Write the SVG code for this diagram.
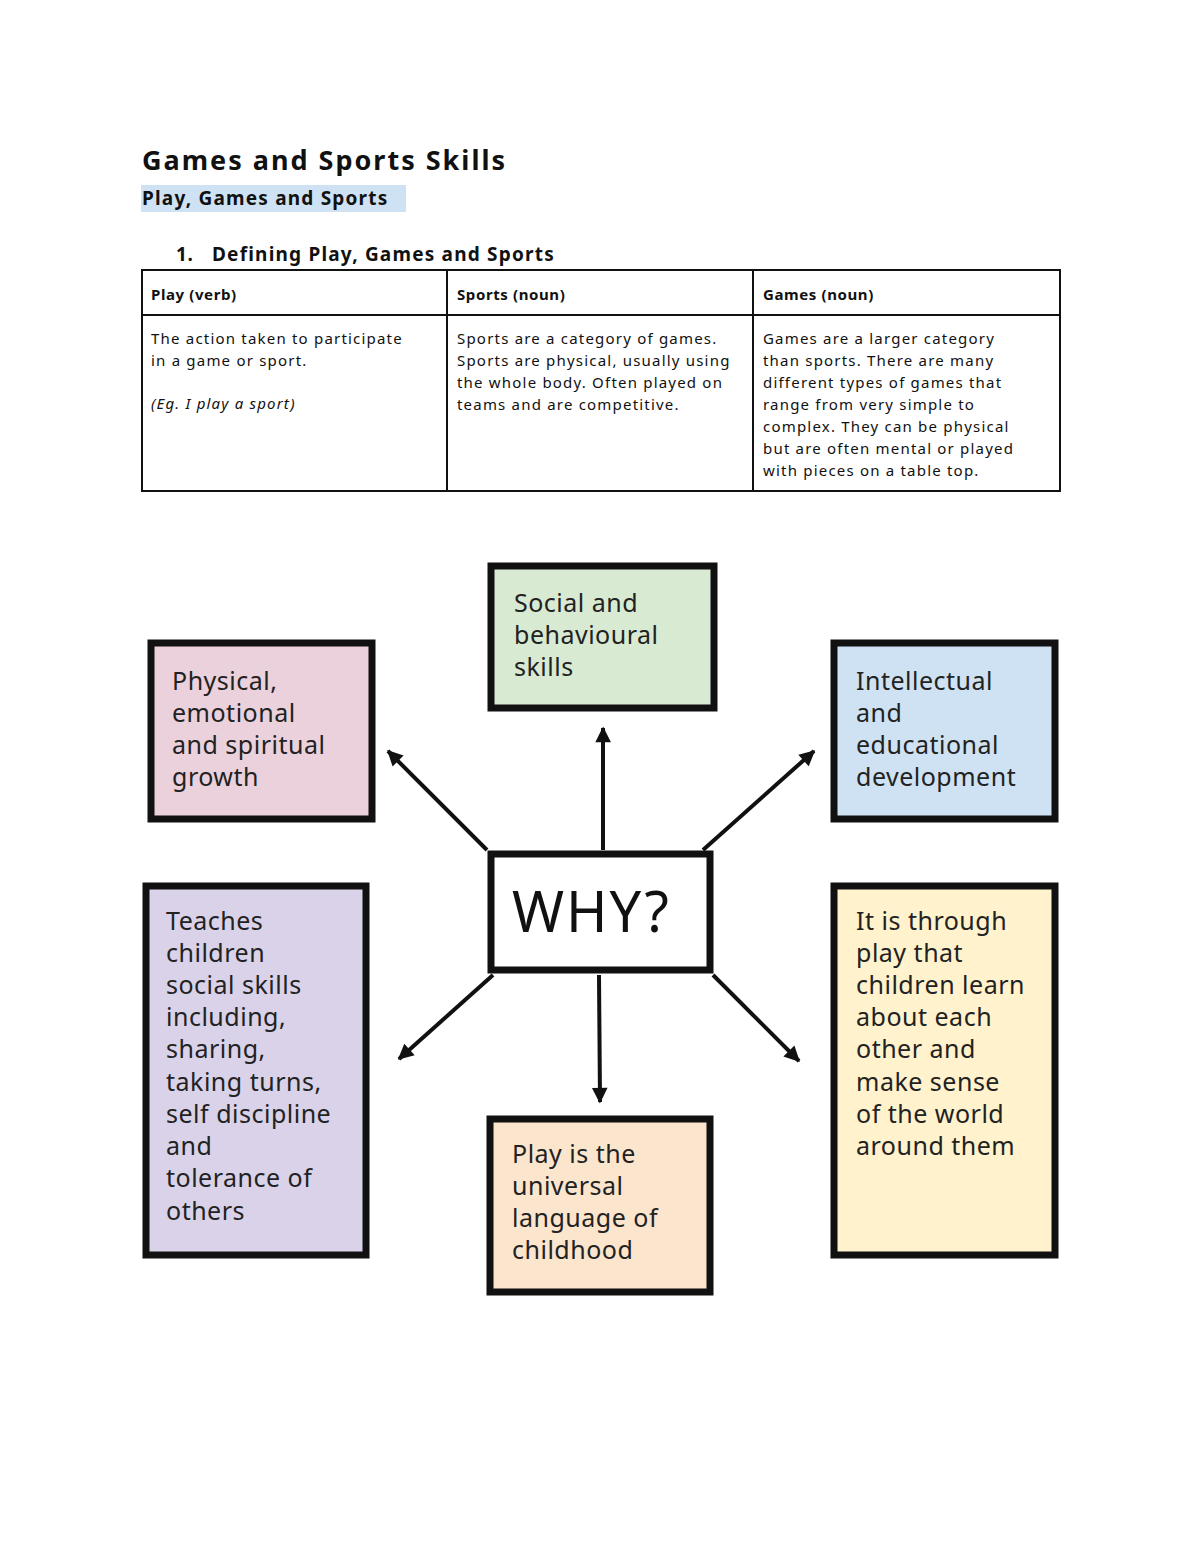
<svg xmlns="http://www.w3.org/2000/svg" width="1200" height="1553" viewBox="0 0 1200 1553">
<style>
text{font-family:"Noto Sans","Open Sans","Liberation Sans",sans-serif;fill:#111}
.h{font-weight:bold;letter-spacing:0.6px}
.th{font-size:15px;font-weight:bold;letter-spacing:0.6px}
.td{font-size:15px;letter-spacing:1.2px}
.box{stroke:#111;stroke-width:7}
.bt{font-size:25px;fill:#222;letter-spacing:0.5px}
.cell{fill:none;stroke:#111;stroke-width:2}
.con line{stroke:#111;stroke-width:4}
</style>
<defs>
<marker id="ah" viewBox="0 0 10 10" refX="8" refY="5" markerWidth="6" markerHeight="6" orient="auto" markerUnits="userSpaceOnUse" style="overflow:visible">
<path d="M0,0 L10,5 L0,10 z" fill="#111" transform="scale(2.6) translate(-6,-3)"/>
</marker>
</defs>
<rect width="1200" height="1553" fill="#fff"/>
<text class="h" x="142" y="170" font-size="27" style="letter-spacing:2px">Games and Sports Skills</text>
<rect x="141" y="185" width="265" height="27" fill="#cfe2f3"/>
<text class="h" x="142" y="205" font-size="19" style="letter-spacing:1.2px">Play, Games and Sports</text>
<text class="h" x="176" y="261" font-size="19">1.</text>
<text class="h" x="212" y="261" font-size="19" style="letter-spacing:1.2px">Defining Play, Games and Sports</text>
<g id="table">
<rect class="cell" x="142" y="270" width="918" height="221"/>
<line class="cell" x1="142" y1="315" x2="1060" y2="315"/>
<line class="cell" x1="447" y1="270" x2="447" y2="491"/>
<line class="cell" x1="753" y1="270" x2="753" y2="491"/>
<text class="th" x="151" y="300">Play (verb)</text>
<text class="th" x="457" y="300">Sports (noun)</text>
<text class="th" x="763" y="300">Games (noun)</text>
<text class="td" x="151" y="344">The action taken to participate</text>
<text class="td" x="151" y="366">in a game or sport.</text>
<text class="td" x="151" y="409" font-style="italic">(Eg. I play a sport)</text>
<text class="td" x="457" y="344">Sports are a category of games.</text>
<text class="td" x="457" y="366">Sports are physical, usually using</text>
<text class="td" x="457" y="388">the whole body. Often played on</text>
<text class="td" x="457" y="410">teams and are competitive.</text>
<text class="td" x="763" y="344">Games are a larger category</text>
<text class="td" x="763" y="366">than sports. There are many</text>
<text class="td" x="763" y="388">different types of games that</text>
<text class="td" x="763" y="410">range from very simple to</text>
<text class="td" x="763" y="432">complex. They can be physical</text>
<text class="td" x="763" y="454">but are often mental or played</text>
<text class="td" x="763" y="476">with pieces on a table top.</text>
</g>
<g class="con" id="connectors">
<line x1="603" y1="850" x2="603" y2="728" marker-end="url(#ah)"/>
<line x1="487" y1="850" x2="388" y2="751" marker-end="url(#ah)"/>
<line x1="703" y1="850" x2="814" y2="751" marker-end="url(#ah)"/>
<line x1="493" y1="975" x2="399" y2="1059" marker-end="url(#ah)"/>
<line x1="599" y1="975" x2="600" y2="1102" marker-end="url(#ah)"/>
<line x1="713" y1="975" x2="799" y2="1061" marker-end="url(#ah)"/>
</g>
<g id="social"><rect class="box" x="491" y="566" width="223" height="142" fill="#d9ead3"/>
<text class="bt" x="514" y="612">Social and</text><text class="bt" x="514" y="644">behavioural</text><text class="bt" x="514" y="676">skills</text></g>
<g id="physical"><rect class="box" x="151" y="643" width="221" height="176" fill="#ead1dc"/>
<text class="bt" x="172" y="690">Physical,</text><text class="bt" x="172" y="722">emotional</text><text class="bt" x="172" y="754">and spiritual</text><text class="bt" x="172" y="786">growth</text></g>
<g id="intellectual"><rect class="box" x="834" y="643" width="221" height="176" fill="#cfe2f3"/>
<text class="bt" x="856" y="690">Intellectual</text><text class="bt" x="856" y="722">and</text><text class="bt" x="856" y="754">educational</text><text class="bt" x="856" y="786">development</text></g>
<g id="why"><rect class="box" x="491" y="854" width="219" height="116" fill="#fff"/>
<text x="512" y="932" font-size="56" fill="#111" style="letter-spacing:2px">WHY?</text></g>
<g id="teaches"><rect class="box" x="146" y="886" width="220" height="369" fill="#d9d2e9"/>
<text class="bt" x="166" y="930">Teaches</text><text class="bt" x="166" y="962">children</text><text class="bt" x="166" y="994">social skills</text><text class="bt" x="166" y="1026">including,</text><text class="bt" x="166" y="1058">sharing,</text><text class="bt" x="166" y="1091">taking turns,</text><text class="bt" x="166" y="1123">self discipline</text><text class="bt" x="166" y="1155">and</text><text class="bt" x="166" y="1187">tolerance of</text><text class="bt" x="166" y="1220">others</text></g>
<g id="play"><rect class="box" x="490" y="1119" width="220" height="173" fill="#fce5cd"/>
<text class="bt" x="512" y="1163">Play is the</text><text class="bt" x="512" y="1195">universal</text><text class="bt" x="512" y="1227">language of</text><text class="bt" x="512" y="1259">childhood</text></g>
<g id="through"><rect class="box" x="834" y="886" width="221" height="369" fill="#fff2cc"/>
<text class="bt" x="856" y="930">It is through</text><text class="bt" x="856" y="962">play that</text><text class="bt" x="856" y="994">children learn</text><text class="bt" x="856" y="1026">about each</text><text class="bt" x="856" y="1058">other and</text><text class="bt" x="856" y="1091">make sense</text><text class="bt" x="856" y="1123">of the world</text><text class="bt" x="856" y="1155">around them</text></g>
</svg>
